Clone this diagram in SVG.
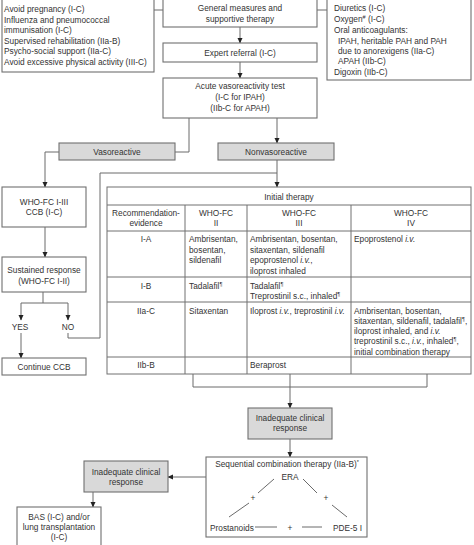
<svg xmlns="http://www.w3.org/2000/svg" width="474" height="545" viewBox="0 0 474 545">
<defs>
<style>
text{font-family:"Liberation Sans",Arial,sans-serif;font-size:8.3px;fill:#333}
.c{text-anchor:middle}
.box{fill:#fff;stroke:#707070;stroke-width:1.1}
.gbox{fill:#d9d9d9;stroke:#707070;stroke-width:1.1}
.ln{fill:none;stroke:#6a6a6a;stroke-width:1}
.tl{fill:none;stroke:#707070;stroke-width:1}
.i{font-style:italic}
.sup{font-size:5.5px}
</style>
<marker id="ar" markerWidth="6" markerHeight="6" refX="5" refY="3" orient="auto" markerUnits="userSpaceOnUse">
<path d="M0,0.5 L5.5,3 L0,5.5 z" fill="#222"/>
</marker>
</defs>
<rect width="474" height="545" fill="#fff"/>

<g id="connectors">
<path class="ln" d="M154,10 H163"/>
<path class="ln" d="M317,10 H327"/>
<path class="ln" d="M240,27 V43" marker-end="url(#ar)"/>
<path class="ln" d="M240,62 V78" marker-end="url(#ar)"/>
<path class="ln" d="M189,118 V152 H175"/>
<path class="ln" d="M277,118 V143" marker-end="url(#ar)"/>
<path class="ln" d="M59,152 H45 V187" marker-end="url(#ar)"/>
<path class="ln" d="M277,160 V187" marker-end="url(#ar)"/>
<path class="ln" d="M45,227 V257" marker-end="url(#ar)"/>
<path class="ln" d="M43,292 V303"/>
<path class="ln" d="M21,303 H68"/>
<path class="ln" d="M21,303 V320" marker-end="url(#ar)"/>
<path class="ln" d="M68,303 V320" marker-end="url(#ar)"/>
<path class="ln" d="M21,333 V358" marker-end="url(#ar)"/>
<path class="ln" d="M68,333 V338 H100 V173 H277"/>
<path class="ln" d="M193,374 V387 H427 V374"/>
<path class="ln" d="M290,374 V408" marker-end="url(#ar)"/>
<path class="ln" d="M290,439 V457" marker-end="url(#ar)"/>
<path class="ln" d="M206,477 H168" marker-end="url(#ar)"/>
<path class="ln" d="M93,492 V507" marker-end="url(#ar)"/>
</g>

<g id="general-measures">
<rect class="box" x="2" y="-5" width="152" height="77"/>
<text x="4" y="12">Avoid pregnancy (I-C)</text>
<text x="4" y="23">Influenza and pneumococcal</text>
<text x="4" y="33">immunisation (I-C)</text>
<text x="4" y="43.5">Supervised rehabilitation (IIa-B)</text>
<text x="4" y="54">Psycho-social support (IIa-C)</text>
<text x="4" y="64.5">Avoid excessive physical activity (III-C)</text>
</g>

<g id="general">
<rect class="box" x="163" y="-5" width="154" height="32"/>
<text class="c" x="240" y="11">General measures and</text>
<text class="c" x="240" y="22">supportive therapy</text>
</g>

<g id="supportive">
<rect class="box" x="327" y="-5" width="144" height="85"/>
<text x="334" y="11">Diuretics (I-C)</text>
<text x="334" y="22">Oxygen<tspan class="sup" dy="-3">#</tspan><tspan dy="3"> (I-C)</tspan></text>
<text x="334" y="33">Oral anticoagulants:</text>
<text x="338" y="43.5">IPAH, heritable PAH and PAH</text>
<text x="338" y="53.5">due to anorexigens (IIa-C)</text>
<text x="338" y="64">APAH (IIb-C)</text>
<text x="334" y="74.5">Digoxin (IIb-C)</text>
</g>

<g id="expert">
<rect class="box" x="163" y="43" width="154" height="19"/>
<text class="c" x="240" y="55.5">Expert referral (I-C)</text>
</g>

<g id="acute">
<rect class="box" x="163" y="78" width="154" height="40"/>
<text class="c" x="240" y="89">Acute vasoreactivity test</text>
<text class="c" x="240" y="100">(I-C for IPAH)</text>
<text class="c" x="240" y="111">(IIb-C for APAH)</text>
</g>

<g id="vasoreactive">
<rect class="gbox" x="59" y="143" width="116" height="17"/>
<text class="c" x="117" y="154.5">Vasoreactive</text>
</g>

<g id="nonvasoreactive">
<rect class="gbox" x="218" y="143" width="116" height="17"/>
<text class="c" x="276" y="154.5">Nonvasoreactive</text>
</g>

<g id="ccb">
<rect class="box" x="2" y="187" width="84" height="40"/>
<text class="c" x="44" y="205">WHO-FC I-III</text>
<text class="c" x="44" y="214.5">CCB (I-C)</text>
</g>

<g id="sustained">
<rect class="box" x="2" y="257" width="84" height="35"/>
<text class="c" x="44" y="273">Sustained response</text>
<text class="c" x="44" y="283.5">(WHO-FC I-II)</text>
</g>

<g id="yes"><text class="c" x="20" y="330">YES</text></g>
<g id="no"><text class="c" x="68" y="330">NO</text></g>

<g id="continue">
<rect class="box" x="2" y="358" width="84" height="17"/>
<text class="c" x="44" y="369.5">Continue CCB</text>
</g>

<g id="initial-therapy">
<rect class="tl" x="107" y="187" width="364" height="187"/>
<path class="tl" d="M107,205 H471 M107,231 H471 M107,277 H471 M107,302 H471 M107,357 H471 M185,205 V374 M247,205 V374 M351,205 V374"/>
<text class="c" x="289" y="200">Initial therapy</text>
<text class="c" x="146" y="216">Recommendation-</text>
<text class="c" x="146" y="226">evidence</text>
<text class="c" x="216" y="216">WHO-FC</text>
<text class="c" x="216" y="226">II</text>
<text class="c" x="299" y="216">WHO-FC</text>
<text class="c" x="299" y="226">III</text>
<text class="c" x="411" y="216">WHO-FC</text>
<text class="c" x="411" y="226">IV</text>

<text class="c" x="146" y="242">I-A</text>
<text x="189" y="242">Ambrisentan,</text>
<text x="189" y="252.5">bosentan,</text>
<text x="189" y="263">sildenafil</text>
<text x="250" y="242">Ambrisentan, bosentan,</text>
<text x="250" y="252.5">sitaxentan, sildenafil</text>
<text x="250" y="263">epoprostenol <tspan class="i">i.v.</tspan>,</text>
<text x="250" y="273.5">iloprost inhaled</text>
<text x="354" y="242">Epoprostenol <tspan class="i">i.v.</tspan></text>

<text class="c" x="146" y="288.5">I-B</text>
<text x="189" y="288.5">Tadalafil<tspan class="sup" dy="-3">¶</tspan></text>
<text x="250" y="288.5">Tadalafil<tspan class="sup" dy="-3">¶</tspan></text>
<text x="250" y="298.5">Treprostinil s.c., inhaled<tspan class="sup" dy="-3">¶</tspan></text>

<text class="c" x="146" y="313.5">IIa-C</text>
<text x="189" y="313.5">Sitaxentan</text>
<text x="250" y="313.5">Iloprost <tspan class="i">i.v.</tspan>, treprostinil <tspan class="i">i.v.</tspan></text>
<text x="354" y="313.5">Ambrisentan, bosentan,</text>
<text x="354" y="323.8">sitaxentan, sildenafil, tadalafil<tspan class="sup" dy="-3">¶</tspan><tspan dy="3">,</tspan></text>
<text x="354" y="334.1">iloprost inhaled, and <tspan class="i">i.v.</tspan></text>
<text x="354" y="344.4">treprostinil s.c., <tspan class="i">i.v.</tspan>, inhaled<tspan class="sup" dy="-3">¶</tspan><tspan dy="3">,</tspan></text>
<text x="354" y="354.7">initial combination therapy</text>

<text class="c" x="146" y="368">IIb-B</text>
<text x="250" y="368">Beraprost</text>
</g>

<g id="inadequate-1">
<rect class="gbox" x="248" y="408" width="84" height="31"/>
<text class="c" x="290" y="421">Inadequate clinical</text>
<text class="c" x="290" y="431">response</text>
</g>

<g id="sequential">
<rect class="box" x="206" y="457" width="161" height="80"/>
<text class="c" x="287" y="467">Sequential combination therapy (IIa-B)<tspan class="sup" dy="-3">*</tspan></text>
<text class="c" x="290" y="480">ERA</text>
<text x="210" y="531">Prostanoids</text>
<text x="362" y="531" text-anchor="end">PDE-5 I</text>
<text class="c" x="253" y="501">+</text>
<text class="c" x="326" y="501">+</text>
<text class="c" x="290" y="530.5">+</text>
<path class="ln" d="M274,479 L258,493 M249,503 L229,517 M303,479 L317,493 M332,505 L347,517 M255,527 H277 M302,527 H322"/>
</g>

<g id="inadequate-2">
<rect class="gbox" x="84" y="461" width="84" height="31"/>
<text class="c" x="126" y="475">Inadequate clinical</text>
<text class="c" x="126" y="485">response</text>
</g>

<g id="bas">
<rect class="box" x="17" y="507" width="84" height="45"/>
<text class="c" x="59" y="520">BAS (I-C) and/or</text>
<text class="c" x="59" y="530">lung transplantation</text>
<text class="c" x="59" y="540">(I-C)</text>
</g>
</svg>
